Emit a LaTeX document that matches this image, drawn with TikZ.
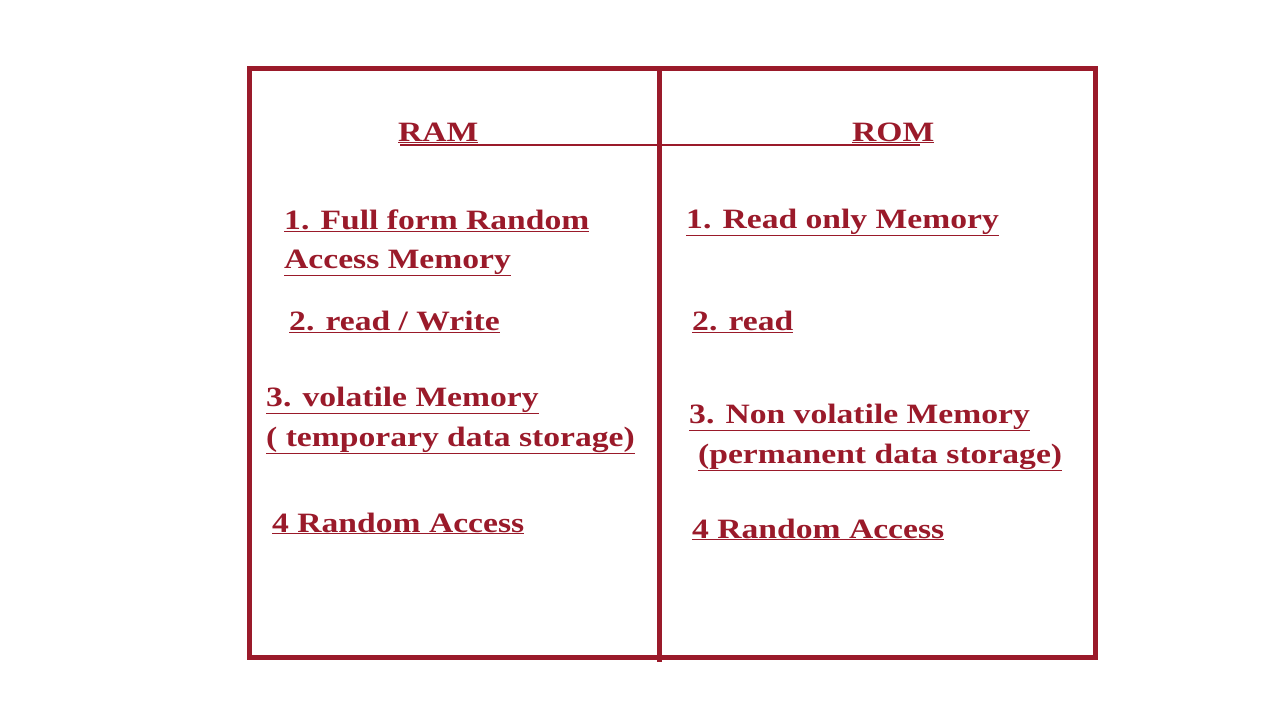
\documentclass[tikz,border=0pt]{standalone}
\usepackage{fontspec}
\setmainfont{Liberation Serif}
\definecolor{dred}{HTML}{9A1A2A}
\begin{document}
\begin{tikzpicture}[x=1pt,y=-1pt,
  txt/.style={anchor=base west,text=dred,inner sep=0pt,font=\fontsize{28}{30}\selectfont\bfseries}]
\useasboundingbox[fill=white] (0,0) rectangle (1280,720);
\draw[dred,line width=5pt] (249,68) rectangle (1095,657);
\coordinate (vt) at (659,68); \coordinate (vb) at (659,662);
\draw[dred,line width=5pt] (vt) -- (vb);
\coordinate (hl) at (400,145); \coordinate (hr) at (920,145);
\draw[dred,line width=1.5pt] (hl) -- (hr);
\newcommand{\ul}[1]{\scalebox{1.2}[1]{\underline{#1}}}
\node[txt] (ram) at (398,141) {\ul{RAM}};
\node[txt] (rom) at (852,141) {\ul{ROM}};
\node[txt] (a1) at (284,229) {\ul{1. Full form Random}};
\node[txt] (a1b) at (284,268) {\ul{Access Memory}};
\node[txt] (a2) at (289,330) {\ul{2. read / Write}};
\node[txt] (a3) at (266,406) {\ul{3. volatile Memory}};
\node[txt] (a3b) at (266,446) {\ul{( temporary data storage)}};
\node[txt] (a4) at (272,532) {\ul{4 Random Access}};
\node[txt] (b1) at (686,228) {\ul{1. Read only Memory}};
\node[txt] (b2) at (692,330) {\ul{2. read}};
\node[txt] (b3) at (689,423) {\ul{3. Non volatile Memory}};
\node[txt] (b3b) at (698,463) {\ul{(permanent data storage)}};
\node[txt] (b4) at (692,538) {\ul{4 Random Access}};
\end{tikzpicture}
\end{document}
